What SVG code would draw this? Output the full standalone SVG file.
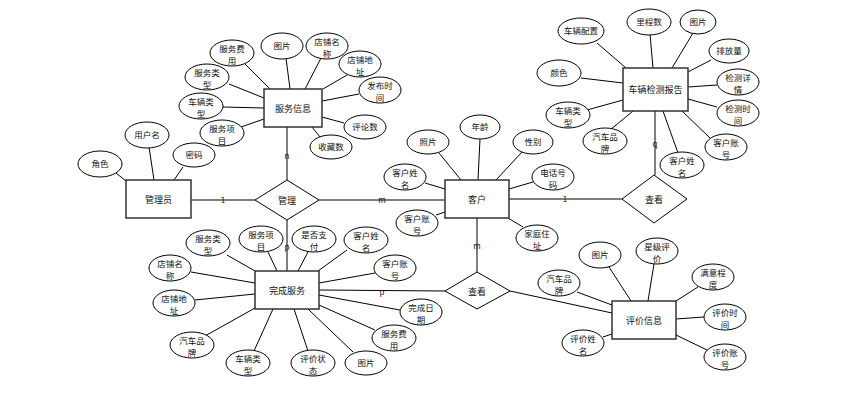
<svg xmlns="http://www.w3.org/2000/svg" width="850" height="405" viewBox="0 0 850 405">
<style>
.e{fill:#fff;stroke:#000;stroke-width:1}
.r{fill:#fff;stroke:#333;stroke-width:1.5}
.d{fill:#fff;stroke:#000;stroke-width:1}
.c line{stroke:#000;stroke-width:1}
text{font-family:"Noto Sans CJK SC","Liberation Sans",sans-serif;font-size:8.5px;fill:#111;text-anchor:middle}
.m{font-size:9px}
.lb{font-size:8px}
</style>
<rect width="850" height="405" fill="#fff"/>
<g id="connectors" class="c">
<line x1="287" y1="127" x2="287" y2="180"/>
<line x1="191" y1="200" x2="255" y2="200"/>
<line x1="319" y1="200" x2="445" y2="200"/>
<line x1="287" y1="220" x2="287" y2="271"/>
<line x1="509" y1="199" x2="622" y2="199"/>
<line x1="655" y1="111" x2="655" y2="175"/>
<line x1="477" y1="218" x2="477" y2="272"/>
<line x1="319" y1="290" x2="445" y2="291"/>
<line x1="510" y1="291" x2="612" y2="313"/>
<line x1="245" y1="64" x2="271" y2="90"/>
<line x1="286" y1="58" x2="290" y2="89"/>
<line x1="321" y1="58" x2="305" y2="89"/>
<line x1="347" y1="75" x2="323" y2="89"/>
<line x1="359" y1="94" x2="322" y2="101"/>
<line x1="344" y1="123" x2="322" y2="117"/>
<line x1="320" y1="137" x2="312" y2="127"/>
<line x1="241" y1="127" x2="264" y2="119"/>
<line x1="223" y1="107" x2="264" y2="108"/>
<line x1="229" y1="84" x2="264" y2="98"/>
<line x1="149" y1="147" x2="154" y2="180"/>
<line x1="183" y1="167" x2="174" y2="180"/>
<line x1="116" y1="173" x2="126" y2="181"/>
<line x1="597" y1="43" x2="626" y2="68"/>
<line x1="650" y1="34" x2="653" y2="68"/>
<line x1="693" y1="33" x2="672" y2="68"/>
<line x1="711" y1="60" x2="688" y2="72"/>
<line x1="717" y1="85" x2="688" y2="87"/>
<line x1="717" y1="107" x2="688" y2="99"/>
<line x1="710" y1="138" x2="682" y2="111"/>
<line x1="678" y1="153" x2="663" y2="111"/>
<line x1="610" y1="130" x2="633" y2="111"/>
<line x1="587" y1="110" x2="623" y2="100"/>
<line x1="581" y1="78" x2="623" y2="83"/>
<line x1="439" y1="153" x2="461" y2="180"/>
<line x1="480" y1="139" x2="478" y2="180"/>
<line x1="522" y1="152" x2="496" y2="180"/>
<line x1="533" y1="182" x2="509" y2="189"/>
<line x1="523" y1="227" x2="508" y2="218"/>
<line x1="436" y1="215" x2="445" y2="212"/>
<line x1="425" y1="183" x2="445" y2="189"/>
<line x1="227" y1="255" x2="255" y2="271"/>
<line x1="268" y1="252" x2="277" y2="271"/>
<line x1="308" y1="252" x2="298" y2="271"/>
<line x1="347" y1="250" x2="318" y2="271"/>
<line x1="375" y1="273" x2="319" y2="283"/>
<line x1="400" y1="310" x2="319" y2="295"/>
<line x1="375" y1="330" x2="319" y2="305"/>
<line x1="353" y1="352" x2="308" y2="309"/>
<line x1="308" y1="351" x2="294" y2="309"/>
<line x1="254" y1="351" x2="273" y2="309"/>
<line x1="205" y1="336" x2="255" y2="308"/>
<line x1="195" y1="300" x2="255" y2="294"/>
<line x1="191" y1="272" x2="255" y2="283"/>
<line x1="577" y1="292" x2="612" y2="305"/>
<line x1="609" y1="267" x2="631" y2="301"/>
<line x1="654" y1="264" x2="648" y2="301"/>
<line x1="698" y1="287" x2="676" y2="301"/>
<line x1="704" y1="317" x2="676" y2="319"/>
<line x1="707" y1="350" x2="676" y2="335"/>
<line x1="603" y1="337" x2="612" y2="334"/>
</g>
<g id="cardinality">
<text class="lb" x="287" y="159">n</text>
<text class="lb" x="223" y="203">1</text>
<text class="lb" x="382" y="203">m</text>
<text class="lb" x="287" y="250">p</text>
<text class="lb" x="565" y="202">1</text>
<text class="lb" x="655" y="147">q</text>
<text class="lb" x="477" y="249">m</text>
<text class="lb" x="382" y="295">p</text>
</g>
<g id="admin"><rect class="r" x="126" y="180" width="65" height="38"/><text class="m" x="158.5" y="202.5">管理员</text></g>
<g id="service"><rect class="r" x="264" y="89" width="58" height="38"/><text class="m" x="293" y="111.5">服务信息</text></g>
<g id="customer"><rect class="r" x="445" y="180" width="64" height="38"/><text class="m" x="477" y="202.5">客户</text></g>
<g id="report"><rect class="r" x="623" y="68" width="65" height="43"/><text class="m" x="655.5" y="93">车辆检测报告</text></g>
<g id="done"><rect class="r" x="255" y="271" width="64" height="38"/><text class="m" x="287" y="293.5">完成服务</text></g>
<g id="review"><rect class="r" x="612" y="301" width="64" height="38"/><text class="m" x="644" y="323.5">评价信息</text></g>
<g id="manage"><polygon class="d" points="287,180 319,200 287,220 255,200"/><text class="m" x="287" y="203.5">管理</text></g>
<g id="view1"><polygon class="d" points="654,175 687,199 654,223 622,199"/><text class="m" x="654" y="202.5">查看</text></g>
<g id="view2"><polygon class="d" points="477,272 510,291 477,309 445,291"/><text class="m" x="477" y="294.5">查看</text></g>
<g id="s-fee"><ellipse class="e" cx="232" cy="53" rx="22" ry="13"/><text x="232" y="51.5">服务费<tspan x="232" dy="12.4">用</tspan></text></g>
<g id="s-pic"><ellipse class="e" cx="282" cy="46" rx="21" ry="13"/><text x="282" y="49.3">图片</text></g>
<g id="s-shop"><ellipse class="e" cx="327" cy="46" rx="21" ry="13"/><text x="327" y="44.5">店铺名<tspan x="327" dy="12.4">称</tspan></text></g>
<g id="s-addr"><ellipse class="e" cx="360" cy="64" rx="21" ry="13"/><text x="360" y="62.5">店铺地<tspan x="360" dy="12.4">址</tspan></text></g>
<g id="s-time"><ellipse class="e" cx="380" cy="90" rx="21" ry="13"/><text x="380" y="88.5">发布时<tspan x="380" dy="12.4">间</tspan></text></g>
<g id="s-cmt"><ellipse class="e" cx="365" cy="127" rx="21" ry="12"/><text x="365" y="130.3">评论数</text></g>
<g id="s-fav"><ellipse class="e" cx="331" cy="147" rx="21" ry="12"/><text x="331" y="150.3">收藏数</text></g>
<g id="s-item"><ellipse class="e" cx="222" cy="133" rx="22" ry="13"/><text x="222" y="131.5">服务项<tspan x="222" dy="12.4">目</tspan></text></g>
<g id="s-car"><ellipse class="e" cx="201" cy="106" rx="22" ry="13"/><text x="201" y="104.5">车辆类<tspan x="201" dy="12.4">型</tspan></text></g>
<g id="s-type"><ellipse class="e" cx="207" cy="77" rx="22" ry="13"/><text x="207" y="75.5">服务类<tspan x="207" dy="12.4">型</tspan></text></g>
<g id="a-user"><ellipse class="e" cx="147" cy="135" rx="22" ry="13"/><text x="147" y="138.3">用户名</text></g>
<g id="a-pwd"><ellipse class="e" cx="194" cy="155" rx="21" ry="12"/><text x="194" y="158.3">密码</text></g>
<g id="a-role"><ellipse class="e" cx="100" cy="164" rx="22" ry="13"/><text x="100" y="167.3">角色</text></g>
<g id="r-cfg"><ellipse class="e" cx="581" cy="31" rx="23" ry="13"/><text x="581" y="34.3">车辆配置</text></g>
<g id="r-km"><ellipse class="e" cx="649" cy="22" rx="22" ry="13"/><text x="649" y="25.3">里程数</text></g>
<g id="r-pic"><ellipse class="e" cx="698" cy="22" rx="18" ry="12"/><text x="698" y="25.3">图片</text></g>
<g id="r-emit"><ellipse class="e" cx="729" cy="51" rx="20" ry="12"/><text x="729" y="54.3">排放量</text></g>
<g id="r-detail"><ellipse class="e" cx="738" cy="82" rx="21" ry="13"/><text x="738" y="80.5">检测详<tspan x="738" dy="12.4">情</tspan></text></g>
<g id="r-time"><ellipse class="e" cx="738" cy="113" rx="21" ry="13"/><text x="738" y="111.5">检测时<tspan x="738" dy="12.4">间</tspan></text></g>
<g id="r-acct"><ellipse class="e" cx="726" cy="147" rx="21" ry="13"/><text x="726" y="145.5">客户账<tspan x="726" dy="12.4">号</tspan></text></g>
<g id="r-name"><ellipse class="e" cx="682" cy="165" rx="22" ry="13"/><text x="682" y="163.5">客户姓<tspan x="682" dy="12.4">名</tspan></text></g>
<g id="r-brand"><ellipse class="e" cx="605" cy="141" rx="22" ry="13"/><text x="605" y="139.5">汽车品<tspan x="605" dy="12.4">牌</tspan></text></g>
<g id="r-car"><ellipse class="e" cx="568" cy="115" rx="22" ry="13"/><text x="568" y="113.5">车辆类<tspan x="568" dy="12.4">型</tspan></text></g>
<g id="r-color"><ellipse class="e" cx="559" cy="73" rx="22" ry="13"/><text x="559" y="76.3">颜色</text></g>
<g id="c-photo"><ellipse class="e" cx="428" cy="142" rx="21" ry="12"/><text x="428" y="145.3">照片</text></g>
<g id="c-age"><ellipse class="e" cx="480" cy="127" rx="20" ry="12"/><text x="480" y="130.3">年龄</text></g>
<g id="c-sex"><ellipse class="e" cx="533" cy="142" rx="20" ry="12"/><text x="533" y="145.3">性别</text></g>
<g id="c-tel"><ellipse class="e" cx="553" cy="177" rx="21" ry="13"/><text x="553" y="175.5">电话号<tspan x="553" dy="12.4">码</tspan></text></g>
<g id="c-home"><ellipse class="e" cx="537" cy="238" rx="21" ry="13"/><text x="537" y="236.5">家庭住<tspan x="537" dy="12.4">址</tspan></text></g>
<g id="c-acct"><ellipse class="e" cx="417" cy="223" rx="21" ry="13"/><text x="417" y="221.5">客户账<tspan x="417" dy="12.4">号</tspan></text></g>
<g id="c-name"><ellipse class="e" cx="405" cy="177" rx="21" ry="13"/><text x="405" y="175.5">客户姓<tspan x="405" dy="12.4">名</tspan></text></g>
<g id="d-type"><ellipse class="e" cx="208" cy="243" rx="22" ry="13"/><text x="208" y="241.5">服务类<tspan x="208" dy="12.4">型</tspan></text></g>
<g id="d-item"><ellipse class="e" cx="261" cy="239" rx="22" ry="13"/><text x="261" y="237.5">服务项<tspan x="261" dy="12.4">目</tspan></text></g>
<g id="d-paid"><ellipse class="e" cx="314" cy="239" rx="22" ry="13"/><text x="314" y="237.5">是否支<tspan x="314" dy="12.4">付</tspan></text></g>
<g id="d-name"><ellipse class="e" cx="366" cy="240" rx="22" ry="13"/><text x="366" y="238.5">客户姓<tspan x="366" dy="12.4">名</tspan></text></g>
<g id="d-acct"><ellipse class="e" cx="395" cy="268" rx="21" ry="13"/><text x="395" y="266.5">客户账<tspan x="395" dy="12.4">号</tspan></text></g>
<g id="d-date"><ellipse class="e" cx="421" cy="312" rx="21" ry="13"/><text x="421" y="310.5">完成日<tspan x="421" dy="12.4">期</tspan></text></g>
<g id="d-fee"><ellipse class="e" cx="394" cy="338" rx="22" ry="13"/><text x="394" y="336.5">服务费<tspan x="394" dy="12.4">用</tspan></text></g>
<g id="d-pic"><ellipse class="e" cx="366" cy="363" rx="21" ry="12"/><text x="366" y="366.3">图片</text></g>
<g id="d-state"><ellipse class="e" cx="313" cy="363" rx="22" ry="13"/><text x="313" y="361.5">评价状<tspan x="313" dy="12.4">态</tspan></text></g>
<g id="d-car"><ellipse class="e" cx="248" cy="363" rx="22" ry="13"/><text x="248" y="361.5">车辆类<tspan x="248" dy="12.4">型</tspan></text></g>
<g id="d-brand"><ellipse class="e" cx="192" cy="345" rx="22" ry="13"/><text x="192" y="343.5">汽车品<tspan x="192" dy="12.4">牌</tspan></text></g>
<g id="d-addr"><ellipse class="e" cx="174" cy="303" rx="21" ry="13"/><text x="174" y="301.5">店铺地<tspan x="174" dy="12.4">址</tspan></text></g>
<g id="d-shop"><ellipse class="e" cx="170" cy="268" rx="21" ry="13"/><text x="170" y="266.5">店铺名<tspan x="170" dy="12.4">称</tspan></text></g>
<g id="v-brand"><ellipse class="e" cx="559" cy="283" rx="21" ry="13"/><text x="559" y="281.5">汽车品<tspan x="559" dy="12.4">牌</tspan></text></g>
<g id="v-pic"><ellipse class="e" cx="600" cy="255" rx="21" ry="13"/><text x="600" y="258.3">图片</text></g>
<g id="v-star"><ellipse class="e" cx="657" cy="251" rx="21" ry="13"/><text x="657" y="249.5">星级评<tspan x="657" dy="12.4">价</tspan></text></g>
<g id="v-sat"><ellipse class="e" cx="713" cy="277" rx="21" ry="13"/><text x="713" y="275.5">满意程<tspan x="713" dy="12.4">度</tspan></text></g>
<g id="v-time"><ellipse class="e" cx="725" cy="317" rx="21" ry="13"/><text x="725" y="315.5">评价时<tspan x="725" dy="12.4">间</tspan></text></g>
<g id="v-acct"><ellipse class="e" cx="725" cy="357" rx="21" ry="13"/><text x="725" y="355.5">评价账<tspan x="725" dy="12.4">号</tspan></text></g>
<g id="v-name"><ellipse class="e" cx="583" cy="343" rx="21" ry="13"/><text x="583" y="341.5">评价姓<tspan x="583" dy="12.4">名</tspan></text></g>
</svg>
